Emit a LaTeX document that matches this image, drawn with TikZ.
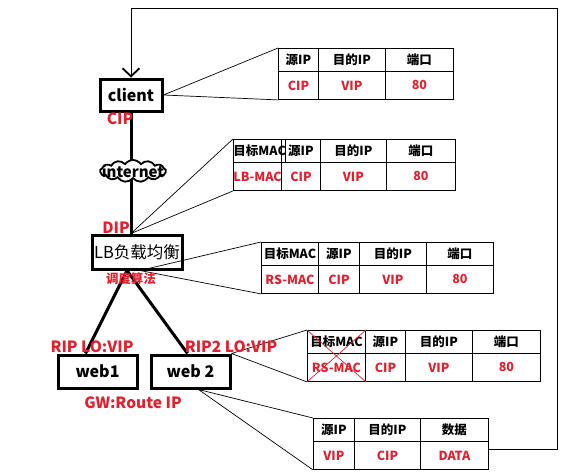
\documentclass[tikz,border=0pt]{standalone}
\usepackage{fontspec}
\setmainfont{Noto Sans CJK SC}
\usetikzlibrary{shapes.symbols,arrows.meta}
\definecolor{lblred}{RGB}{228,30,45}

\begin{document}
\begin{tikzpicture}[x=1pt,y=-1pt,
		box/.style={draw, line width=3pt, inner sep=0pt, font=\fontsize{16}{16}\selectfont\bfseries},
		wire/.style={line width=3pt},
		thin/.style={line width=0.7pt},
		lbl/.style={text=lblred, inner sep=0pt, font=\fontsize{15.5}{15.5}\selectfont\bfseries},
		hcell/.style={draw, line width=0.9pt, anchor=north west, minimum height=23, inner sep=0pt, font=\fontsize{12.5}{12.5}\selectfont\bfseries},
		vcell/.style={hcell, minimum height=28, text=lblred},
		ret/.style={line width=1pt, -{Straight Barb[length=8pt,width=17pt,line width=1.8pt]}}
			]
	\useasboundingbox (0,0) rectangle (566,475);

	% hosts
	\node[box, minimum width=62, minimum height=32] (client) at (131,95) {client};
	\node[box, minimum width=90, minimum height=34, font=\fontsize{16.5}{16.5}\selectfont] (lb) at (137,252) {LB负载均衡};
	\node[box, minimum width=79, minimum height=33] (web1) at (97.5,371.5) {web1};
	\node[box, minimum width=79, minimum height=33] (web2) at (190.5,371.5) {web 2};

	% packet tables
	\foreach \x/\w/\h/\v [count=\i] in {278/40/源IP/CIP, 318/67/目的IP/VIP, 385/68/端口/80} {
		\node[hcell, minimum width=\w] (pkt1h\i) at (\x,48) {\h};
		\node[vcell, minimum width=\w] (pkt1v\i) at (\x,71) {\v};
	}
	\foreach \x/\w/\h/\v [count=\i] in {233/48/目标MAC/LB-MAC, 281/39/源IP/CIP, 320/66/目的IP/VIP, 386/69/端口/80} {
		\node[hcell, minimum width=\w] (pkt2h\i) at (\x,139) {\h};
		\node[vcell, minimum width=\w] (pkt2v\i) at (\x,162) {\v};
	}
	\foreach \x/\w/\h/\v [count=\i] in {261/57/目标MAC/RS-MAC, 318/41/源IP/CIP, 359/67/目的IP/VIP, 426/67/端口/80} {
		\node[hcell, minimum width=\w] (pkt3h\i) at (\x,242) {\h};
		\node[vcell, minimum width=\w] (pkt3v\i) at (\x,265) {\v};
	}
	\foreach \x/\w/\h/\v [count=\i] in {307/58/目标MAC/RS-MAC, 365/40/源IP/CIP, 405/67/目的IP/VIP, 472/68/端口/80} {
		\node[hcell, minimum width=\w] (pkt4h\i) at (\x,330) {\h};
		\node[vcell, minimum width=\w] (pkt4v\i) at (\x,353) {\v};
	}
	\foreach \x/\w/\h/\v [count=\i] in {313/41/源IP/VIP, 354/66/目的IP/CIP, 420/68/数据/DATA} {
		\node[hcell, minimum width=\w] (pkt5h\i) at (\x,418) {\h};
		\node[vcell, minimum width=\w] (pkt5v\i) at (\x,441) {\v};
	}
	\draw[thin, lblred] (pkt4h1.north west) -- (pkt4v1.south east) (pkt4v1.south west) -- (pkt4h1.north east);

	% connectors
	\coordinate (dip) at (client.south |- lb.north);
	\coordinate (lbfork) at ([xshift=-10pt]lb.south);
	\coordinate (lbout) at ([xshift=3pt]lb.south);
	\coordinate (gw) at ([xshift=8pt]web2.south);
	\coordinate (corner) at (557,8);

	\draw[wire] (client.south) -- (dip);
	\draw[wire] (lbfork) -- ([xshift=-12pt]web1.north);
	\draw[wire] (lbfork) -- ([xshift=-3pt]web2.north);
	\node[cloud, draw, fill=white, line width=1.8pt, cloud puffs=13, cloud puff arc=110, minimum width=66, minimum height=22,
		label={[font=\fontsize{15}{15}\selectfont\bfseries]center:internet}] (net) at (133,171) {};

	\draw[thin] (client.east) -- (pkt1h1.north west) (client.east) -- (pkt1v1.south west);
	\draw[thin] (dip) -- (pkt2h1.north west) (dip) -- (pkt2v1.south west);
	\draw[thin] (lbout) -- (pkt3h1.north west) (lbout) -- (pkt3v1.south west);
	\draw[thin] (web2.north east) -- (pkt4h1.north west) (web2.north east) -- (pkt4v1.south west);
	\draw[thin] (gw) -- (pkt5h1.north west) (gw) -- (pkt5v1.south west);
	\draw[ret] ([yshift=6pt]pkt5v3.east) -| (corner) -| (client.north);

	% address labels
	\node[lbl] (cip) at (120,119) {CIP};
	\node[lbl] (dipl) at (116,228) {DIP};
	\node[lbl, font=\fontsize{12.5}{12.5}\selectfont\bfseries] (algo) at (131,279) {调度算法};
	\node[lbl] (rip1) at (92,347) {RIP LO:VIP};
	\node[lbl] (rip2) at (231,347) {RIP2 LO:VIP};
	\node[lbl] (gwl) at (133,403) {GW:Route IP};
\end{tikzpicture}
\end{document}
